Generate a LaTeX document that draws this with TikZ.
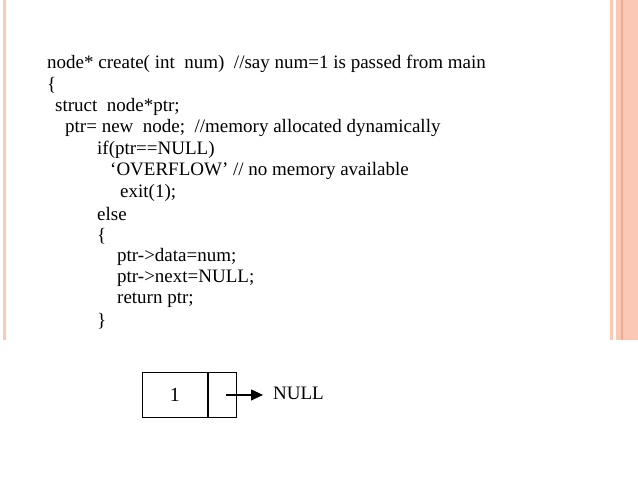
\documentclass[tikz,border=0pt]{standalone}
\usepackage{fontspec}
\setmainfont{Liberation Serif}
\usetikzlibrary{arrows.meta,calc}
\definecolor{pinkA}{RGB}{252,200,182}
\definecolor{pinkB}{RGB}{242,170,148}
\tikzset{code/.style={anchor=west,inner sep=0pt,font=\fontsize{19}{22}\selectfont},
cell/.style={draw,line width=0.9pt,minimum height=45pt,inner sep=0pt}}
\begin{document}
\begin{tikzpicture}[x=1pt,y=-1pt]
\useasboundingbox (0,0) rectangle (638,478);
\fill[pinkA] (3,0) rectangle (6,340);
\fill[pinkA] (610,0) rectangle (613,340);
\fill[pinkA] (616,0) rectangle (638,340);
\fill[pinkB] (621,0) rectangle (623,340);
\node[code] (l1) at (47,64) {node* create( int~ num)~ //say num=1 is passed from main};
\node[code] (l2) at (47,85) {\{};
\node[code] (l3) at (55,107) {struct~ node*ptr;};
\node[code] (l4) at (65,128) {ptr= new~ node;~ //memory allocated dynamically};
\node[code] (l5) at (97,150) {if(ptr==NULL)};
\node[code] (l6) at (110,171) {‘OVERFLOW’ // no memory available};
\node[code] (l7) at (120,193) {exit(1);};
\node[code] (l8) at (97,214) {else};
\node[code] (l9) at (97,236) {\{};
\node[code] (l10) at (117,257) {ptr->data=num;};
\node[code] (l11) at (117,278) {ptr->next=NULL;};
\node[code] (l12) at (117,300) {return ptr;};
\node[code] (l13) at (97,321) {\}};
\node[cell,minimum width=65pt,anchor=north west,font=\fontsize{20}{22}\selectfont] (data) at (142,372) {1};
\node[cell,minimum width=28pt,anchor=west] (nxt) at (data.east) {};
\node[anchor=west,inner sep=0pt,font=\fontsize{19}{20}\selectfont] (null) at (273,393) {NULL};
\coordinate (s) at ($(nxt.center)+(4,0)$);
\coordinate (e) at ($(null.west)+(-10,0)$);
\draw[line width=1.2pt,-{Triangle[length=12pt,width=11pt]}] (s) -- (s -| e);
\end{tikzpicture}
\end{document}
